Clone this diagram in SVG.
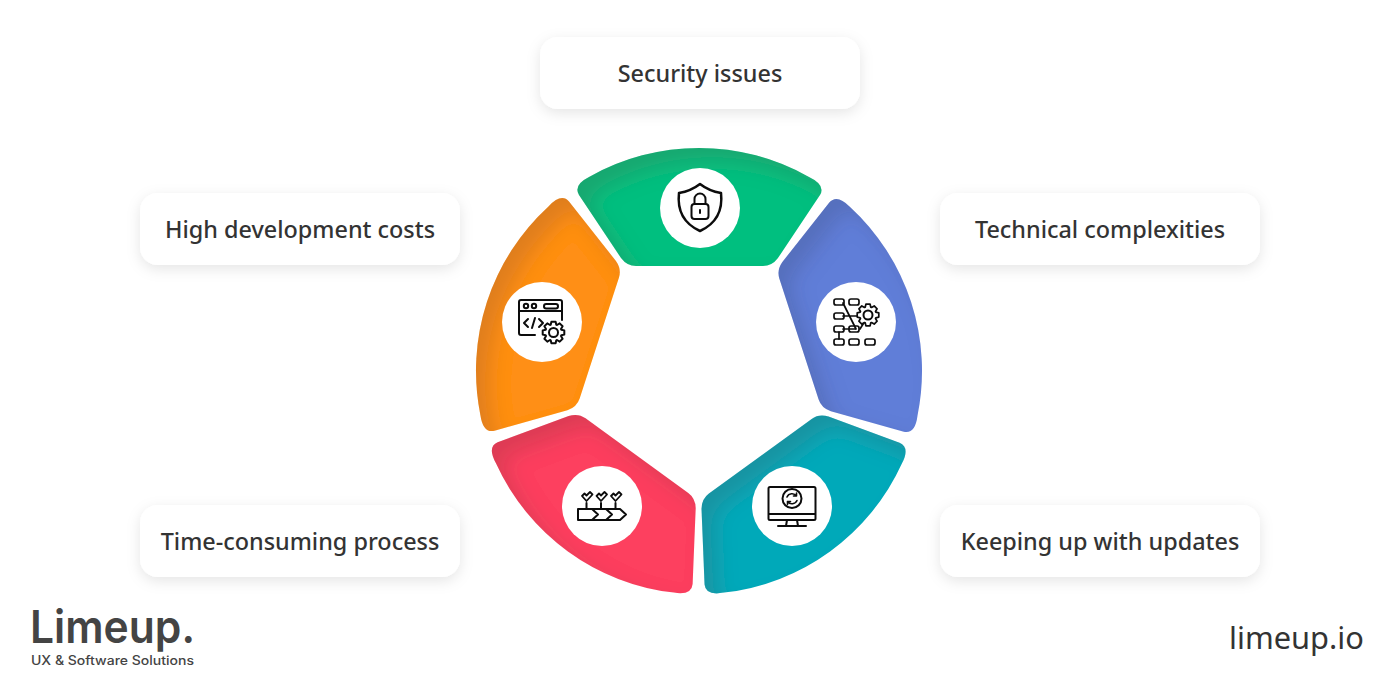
<svg xmlns="http://www.w3.org/2000/svg" width="1400" height="690" viewBox="0 0 1400 690">
<style>
.card{fill:#fff;filter:url(#cardShadow)}
.label{font-family:"Noto Sans","Open Sans",sans-serif;font-size:23.4px;font-weight:500;fill:#333;text-anchor:middle}
.disc{fill:#fff}
.ic{fill:none;stroke:#0c0c0c;stroke-width:2;stroke-linecap:round;stroke-linejoin:round}
.icw{fill:#fff;stroke:#0c0c0c;stroke-width:2;stroke-linejoin:round}
</style>
<defs>
<filter id="cardShadow" x="-15%" y="-50%" width="130%" height="210%"><feDropShadow dx="0" dy="4" stdDeviation="7" flood-color="#000" flood-opacity="0.10"/></filter>
<filter id="inner" x="-20%" y="-20%" width="140%" height="140%">
<feOffset in="SourceAlpha" dx="13" dy="13" result="o"/><feGaussianBlur in="o" stdDeviation="10" result="b"/>
<feComposite in="SourceAlpha" in2="b" operator="out" result="e"/>
<feFlood flood-color="#333" flood-opacity="0.27"/><feComposite in2="e" operator="in" result="sh"/>
<feMerge><feMergeNode in="SourceGraphic"/><feMergeNode in="sh"/></feMerge>
</filter>
<path id="seg" d="M589 177A223 223 0 0 1 809 177Q826 185 820 195L778 258Q772 266 763 266L636 266Q627 266 621 258L579 195Q573 185 589 177Z"/>
<path id="gear" d="M7.8 2.8L10.8 2.1 10.8 -2.1 7.8 -2.8 7.5 -3.5 9.1 -6.2 6.2 -9.1 3.5 -7.5 2.8 -7.8 2.1 -10.8 -2.1 -10.8 -2.8 -7.8 -3.5 -7.5 -6.2 -9.1 -9.1 -6.2 -7.5 -3.5 -7.8 -2.8 -10.8 -2.1 -10.8 2.1 -7.8 2.8 -7.5 3.5 -9.1 6.2 -6.2 9.1 -3.5 7.5 -2.8 7.8 -2.1 10.8 2.1 10.8 2.8 7.8 3.5 7.5 6.2 9.1 9.1 6.2 7.5 3.5Z"/>
</defs>
<rect width="1400" height="690" fill="#fff"/>

<g id="connectors"/>

<g id="card-security"><rect class="card" x="540" y="37" width="320" height="72" rx="18"/><text class="label" x="700" y="82">Security issues</text></g>
<g id="card-technical"><rect class="card" x="940" y="193" width="320" height="72" rx="18"/><text class="label" x="1100" y="238">Technical complexities</text></g>
<g id="card-updates"><rect class="card" x="940" y="505" width="320" height="72" rx="18"/><text class="label" x="1100" y="550">Keeping up with updates</text></g>
<g id="card-time"><rect class="card" x="140" y="505" width="320" height="72" rx="18"/><text class="label" x="300" y="550">Time-consuming process</text></g>
<g id="card-costs"><rect class="card" x="140" y="193" width="320" height="72" rx="18"/><text class="label" x="300" y="238">High development costs</text></g>

<g id="segment-security"><g filter="url(#inner)"><use href="#seg" fill="#00bf7f"/></g><circle class="disc" cx="700" cy="208" r="40"/>
<path class="ic" style="stroke-width:2.5" d="M700 184Q709 191 721 193Q724 220 700 231Q676 220 679 193Q691 191 700 184Z"/>
<rect class="ic" x="691.500" y="204" width="17" height="15" rx="3"/><path class="ic" d="M694.500 204V199A5.500 5.500 0 0 1 705.500 199V204M700 210V213"/></g>

<g id="segment-technical"><g filter="url(#inner)"><use href="#seg" transform="rotate(72 699 371)" fill="#617ed8"/></g><circle class="disc" cx="856" cy="322" r="40"/>
<g class="ic" style="stroke-width:1.700"><path d="M843 303L856 329M843 316H860M843 329H855M839 332V339M865 321L860 329"/>
<rect x="834" y="299" width="10" height="6" rx="2"/><rect x="849" y="299" width="10" height="6" rx="2"/><rect x="834" y="313" width="10" height="6" rx="2"/><rect x="834" y="326" width="10" height="6" rx="2"/><rect x="849" y="326" width="10" height="6" rx="2"/><rect x="834" y="339" width="10" height="6" rx="2"/><rect x="849" y="339" width="10" height="6" rx="2"/><rect x="865" y="339" width="10" height="6" rx="2"/></g>
<use href="#gear" class="icw" transform="translate(868 315)" style="stroke-width:1.7"/><circle class="ic" cx="868" cy="315" r="4.500"/></g>

<g id="segment-updates"><g filter="url(#inner)"><use href="#seg" transform="rotate(144 699 371)" fill="#00a9b9"/></g><circle class="disc" cx="792" cy="506" r="40"/>
<rect class="ic" x="768.500" y="487" width="47" height="33" rx="1.500"/><path class="ic" d="M769 514H815M787 520L786 526H798L797 520M778 526H806"/>
<circle class="ic" cx="792" cy="498.500" r="9.500"/>
<path class="ic" style="stroke-width:1.600" d="M787 497A5.500 5.500 0 0 1 796.500 496M796.500 493V496H793.500M797 500.500A5.500 5.500 0 0 1 787.500 501.500M787.500 504.500V501.500H790.500"/></g>

<g id="segment-time"><g filter="url(#inner)"><use href="#seg" transform="rotate(216 699 371)" fill="#fd405e"/></g><circle class="disc" cx="602" cy="506" r="40"/>
<g class="ic"><path d="M578 509H592L598 514.500 592 520H578ZM592 509H606L612 514.500 606 520H592M606 509H620L626 514.500 620 520H606"/>
<path d="M586.500 503V508M601 503V508M615.500 503V508"/>
<path style="stroke-width:1.800" d="M582 496L584.500 493.500 586.500 495.500 590 492 592.500 494.500 586.500 501Z"/><path style="stroke-width:1.800" d="M596.500 496L599 493.500 601 495.500 604.500 492 607 494.500 601 501Z"/><path style="stroke-width:1.800" d="M611 496L613.500 493.500 615.500 495.500 619 492 621.500 494.500 615.500 501Z"/></g></g>

<g id="segment-costs"><g filter="url(#inner)"><use href="#seg" transform="rotate(288 699 371)" fill="#ff8f17"/></g><circle class="disc" cx="542" cy="322" r="40"/>
<path class="ic" d="M535 335H521Q519 335 519 333V302Q519 300 521 300H560Q562 300 562 302V320M519 311H562M530 335H531"/>
<circle class="ic" cx="526" cy="306" r="2.200"/><circle class="ic" cx="534" cy="306" r="2.200"/><rect class="ic" x="544" y="304" width="14" height="4.500" rx="2.200"/>
<path class="ic" d="M528 319L524 323 528 327M539 319L543 323 539 327M535 318L532 328"/>
<use href="#gear" class="icw" transform="translate(553.500 332.500)"/><circle class="ic" cx="553.500" cy="332.500" r="4.500"/></g>

<g id="logo"><text x="30" y="643" font-family="Inter,sans-serif" font-size="45" font-weight="600" fill="#444" textLength="165" lengthAdjust="spacingAndGlyphs">Limeup.</text>
<text x="31" y="665" font-family="Inter,sans-serif" font-size="12.5" font-weight="500" fill="#444" textLength="163" lengthAdjust="spacingAndGlyphs">UX &amp; Software Solutions</text></g>
<text id="site" x="1229" y="649" font-family="'Noto Sans',sans-serif" font-size="30.800" font-weight="400" fill="#333">limeup.io</text>
</svg>
